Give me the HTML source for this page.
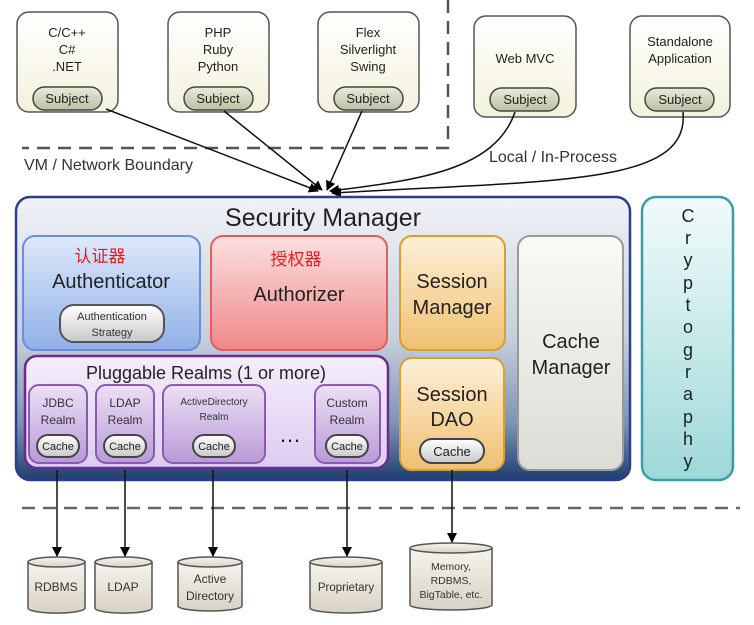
<!DOCTYPE html>
<html><head><meta charset="utf-8"><style>
html,body{margin:0;padding:0;background:#fff;}
svg{display:block;font-family:"Liberation Sans","Noto Sans CJK SC",sans-serif;}
</style></head><body>
<svg width="754" height="625" viewBox="0 0 754 625" xmlns="http://www.w3.org/2000/svg">
<defs>
<linearGradient id="sm" x1="0" y1="0" x2="0" y2="1"><stop offset="0" stop-color="#f0f2f6"/><stop offset="0.5" stop-color="#c6cfdc"/><stop offset="0.8" stop-color="#7d93b4"/><stop offset="1" stop-color="#1e3e70"/></linearGradient>
<linearGradient id="top" x1="0" y1="0" x2="0" y2="1"><stop offset="0" stop-color="#ffffff"/><stop offset="1" stop-color="#f4f2dc"/></linearGradient>
<linearGradient id="subj" x1="0" y1="0" x2="0" y2="1"><stop offset="0" stop-color="#e8ecd8"/><stop offset="1" stop-color="#b8c2a4"/></linearGradient>
<linearGradient id="auth" x1="0" y1="0" x2="0" y2="1"><stop offset="0" stop-color="#dfe9fb"/><stop offset="1" stop-color="#8fb0e8"/></linearGradient>
<linearGradient id="authz" x1="0" y1="0" x2="0" y2="1"><stop offset="0" stop-color="#fde0e0"/><stop offset="1" stop-color="#ee8888"/></linearGradient>
<linearGradient id="sess" x1="0" y1="0" x2="0" y2="1"><stop offset="0" stop-color="#fdf0d8"/><stop offset="1" stop-color="#f0c070"/></linearGradient>
<linearGradient id="cache" x1="0" y1="0" x2="0" y2="1"><stop offset="0" stop-color="#fafaf6"/><stop offset="1" stop-color="#dcdcd6"/></linearGradient>
<linearGradient id="realms" x1="0" y1="0" x2="0" y2="1"><stop offset="0" stop-color="#f4eefc"/><stop offset="1" stop-color="#ddccf0"/></linearGradient>
<linearGradient id="realm" x1="0" y1="0" x2="0" y2="1"><stop offset="0" stop-color="#ece0f6"/><stop offset="1" stop-color="#b89ad8"/></linearGradient>
<linearGradient id="pill" x1="0" y1="0" x2="0" y2="1"><stop offset="0" stop-color="#ffffff"/><stop offset="1" stop-color="#c8c8c8"/></linearGradient>
<linearGradient id="crypto" x1="0" y1="0" x2="0" y2="1"><stop offset="0" stop-color="#f2fbfb"/><stop offset="1" stop-color="#9ed8d8"/></linearGradient>
<linearGradient id="cyl" x1="0" y1="0" x2="0" y2="1"><stop offset="0" stop-color="#f6f4ee"/><stop offset="1" stop-color="#d8d2c4"/></linearGradient>
<marker id="ar" markerWidth="10" markerHeight="10" refX="9" refY="5" orient="auto" markerUnits="userSpaceOnUse"><path d="M0,0 L10,5 L0,10 z" fill="#000"/></marker>
</defs>

<g stroke="#555" stroke-width="1.5" fill="url(#top)">
<rect x="17" y="12" width="101" height="100" rx="12"/>
<rect x="168" y="12" width="101" height="100" rx="12"/>
<rect x="318" y="12" width="101" height="100" rx="12"/>
<rect x="474" y="16" width="102" height="101" rx="12"/>
<rect x="630" y="16" width="100" height="101" rx="12"/>
</g>
<g font-size="13" text-anchor="middle" fill="#222">
<text x="67" y="37">C/C++</text><text x="67" y="54">C#</text><text x="67" y="71">.NET</text>
<text x="218" y="37">PHP</text><text x="218" y="54">Ruby</text><text x="218" y="71">Python</text>
<text x="368" y="37">Flex</text><text x="368" y="54">Silverlight</text><text x="368" y="71">Swing</text>
<text x="525" y="63">Web MVC</text>
<text x="680" y="46">Standalone</text><text x="680" y="63">Application</text>
</g>
<g stroke="#444" stroke-width="1.5" fill="url(#subj)">
<rect x="33" y="87" width="69" height="23" rx="11.5"/>
<rect x="184" y="87" width="69" height="23" rx="11.5"/>
<rect x="334" y="87" width="69" height="23" rx="11.5"/>
<rect x="490" y="88" width="69" height="23" rx="11.5"/>
<rect x="645" y="88" width="69" height="23" rx="11.5"/>
</g>
<g font-size="13" text-anchor="middle" fill="#222">
<text x="67" y="103">Subject</text><text x="218" y="103">Subject</text><text x="368" y="103">Subject</text>
<text x="525" y="104">Subject</text><text x="680" y="104">Subject</text>
</g>
<path d="M448,0 V148 H22" fill="none" stroke="#555" stroke-width="2.5" stroke-dasharray="13,8"/>
<text x="24" y="170" font-size="16" fill="#333">VM / Network Boundary</text>
<text x="489" y="162" font-size="16" fill="#333">Local / In-Process</text>
<g stroke="#111" stroke-width="1.5" fill="none" marker-end="url(#ar)">
<line x1="106" y1="109" x2="318" y2="191"/>
<line x1="224" y1="111" x2="322" y2="190"/>
<line x1="362" y1="111" x2="327" y2="190"/>
<path d="M515,112 C495,170 420,180 330,191"/>
<path d="M683,112 C690,185 560,180 332,193"/>
</g>

<rect x="16" y="197" width="614" height="283" rx="14" fill="url(#sm)" stroke="#2b3f8c" stroke-width="2.5"/>
<text x="323" y="226" font-size="25" text-anchor="middle" fill="#222">Security Manager</text>
<rect x="23" y="236" width="177" height="114" rx="12" fill="url(#auth)" stroke="#6a8fd8" stroke-width="2"/>
<text x="100" y="262" font-size="17" text-anchor="middle" fill="#e02020">认证器</text>
<text x="111" y="288" font-size="20" text-anchor="middle" fill="#222">Authenticator</text>
<rect x="60" y="305" width="104" height="37" rx="14" fill="url(#pill)" stroke="#555" stroke-width="2"/>
<text x="112" y="320" font-size="11" text-anchor="middle" fill="#333">Authentication</text>
<text x="112" y="336" font-size="11" text-anchor="middle" fill="#333">Strategy</text>
<rect x="211" y="236" width="176" height="114" rx="12" fill="url(#authz)" stroke="#e06060" stroke-width="2"/>
<text x="296" y="265" font-size="17" text-anchor="middle" fill="#e02020">授权器</text>
<text x="299" y="301" font-size="20" text-anchor="middle" fill="#222">Authorizer</text>
<rect x="400" y="236" width="105" height="114" rx="12" fill="url(#sess)" stroke="#d8a030" stroke-width="2"/>
<text x="452" y="288" font-size="20" text-anchor="middle" fill="#222">Session</text>
<text x="452" y="314" font-size="20" text-anchor="middle" fill="#222">Manager</text>
<rect x="400" y="358" width="104" height="112" rx="12" fill="url(#sess)" stroke="#d8a030" stroke-width="2"/>
<text x="452" y="401" font-size="20" text-anchor="middle" fill="#222">Session</text>
<text x="452" y="426" font-size="20" text-anchor="middle" fill="#222">DAO</text>
<rect x="420" y="439" width="64" height="24" rx="12" fill="url(#pill)" stroke="#444" stroke-width="2"/>
<text x="452" y="456" font-size="13" text-anchor="middle" fill="#222">Cache</text>
<rect x="518" y="236" width="105" height="234" rx="12" fill="url(#cache)" stroke="#999" stroke-width="2"/>
<text x="571" y="348" font-size="20" text-anchor="middle" fill="#222">Cache</text>
<text x="571" y="374" font-size="20" text-anchor="middle" fill="#222">Manager</text>

<rect x="25" y="356" width="363" height="112" rx="12" fill="url(#realms)" stroke="#6a2a90" stroke-width="2.5"/>
<text x="206" y="379" font-size="18" text-anchor="middle" fill="#222">Pluggable Realms (1 or more)</text>
<g fill="url(#realm)" stroke="#8a5ab0" stroke-width="2">
<rect x="29" y="385" width="58" height="78" rx="10"/>
<rect x="96" y="385" width="58" height="78" rx="10"/>
<rect x="163" y="385" width="102" height="78" rx="10"/>
<rect x="315" y="385" width="65" height="78" rx="10"/>
</g>
<g font-size="12" text-anchor="middle" fill="#333">
<text x="58" y="407">JDBC</text><text x="58" y="424">Realm</text>
<text x="125" y="407">LDAP</text><text x="125" y="424">Realm</text>
<text x="214" y="405" font-size="10">ActiveDirectory</text><text x="214" y="420" font-size="10">Realm</text>
<text x="347" y="407">Custom</text><text x="347" y="424">Realm</text>
</g>
<text x="290" y="442" font-size="22" text-anchor="middle" fill="#111">…</text>
<g fill="url(#pill)" stroke="#444" stroke-width="2">
<rect x="37" y="435" width="42" height="22" rx="11"/>
<rect x="104" y="435" width="42" height="22" rx="11"/>
<rect x="193" y="435" width="42" height="22" rx="11"/>
<rect x="326" y="435" width="42" height="22" rx="11"/>
</g>
<g font-size="11" text-anchor="middle" fill="#222">
<text x="58" y="450">Cache</text><text x="125" y="450">Cache</text><text x="214" y="450">Cache</text><text x="347" y="450">Cache</text>
</g>

<rect x="642" y="197" width="91" height="283" rx="14" fill="url(#crypto)" stroke="#3a9ea8" stroke-width="2.5"/>
<g font-size="18" text-anchor="middle" fill="#222">
<text x="688" y="222">C</text><text x="688" y="244">r</text><text x="688" y="266">y</text><text x="688" y="289">p</text><text x="688" y="311">t</text><text x="688" y="333">o</text><text x="688" y="356">g</text><text x="688" y="378">r</text><text x="688" y="400">a</text><text x="688" y="423">p</text><text x="688" y="445">h</text><text x="688" y="467">y</text>
</g>

<line x1="22" y1="508" x2="740" y2="508" stroke="#666" stroke-width="2.5" stroke-dasharray="13,8"/>
<g stroke="#111" stroke-width="1.5" marker-end="url(#ar)">
<line x1="57" y1="470" x2="57" y2="556"/>
<line x1="125" y1="470" x2="125" y2="556"/>
<line x1="213" y1="470" x2="213" y2="556"/>
<line x1="347" y1="470" x2="347" y2="556"/>
<line x1="452" y1="470" x2="452" y2="542"/>
</g>
<g stroke="#555" stroke-width="1.5" fill="url(#cyl)">
<path d="M28,562 V608 A28,5 0 0 0 85,608 V562"/><ellipse cx="56.5" cy="562" rx="28.5" ry="5"/>
<path d="M95,562 V608 A28,5 0 0 0 152,608 V562"/><ellipse cx="123.5" cy="562" rx="28.5" ry="5"/>
<path d="M178,562 V606 A32,5 0 0 0 242,606 V562"/><ellipse cx="210" cy="562" rx="32" ry="5"/>
<path d="M310,562 V608 A36,5 0 0 0 382,608 V562"/><ellipse cx="346" cy="562" rx="36" ry="5"/>
<path d="M410,548 V605 A41,5 0 0 0 492,605 V548"/><ellipse cx="451" cy="548" rx="41" ry="5"/>
</g>
<g font-size="12" text-anchor="middle" fill="#333">
<text x="56" y="591">RDBMS</text>
<text x="123" y="591">LDAP</text>
<text x="210" y="583">Active</text><text x="210" y="600">Directory</text>
<text x="346" y="591" font-size="11.5">Proprietary</text>
<text x="451" y="570" font-size="10.5">Memory,</text><text x="451" y="584" font-size="10.5">RDBMS,</text><text x="451" y="598" font-size="10.5">BigTable, etc.</text>
</g>
</svg>
</body></html>
